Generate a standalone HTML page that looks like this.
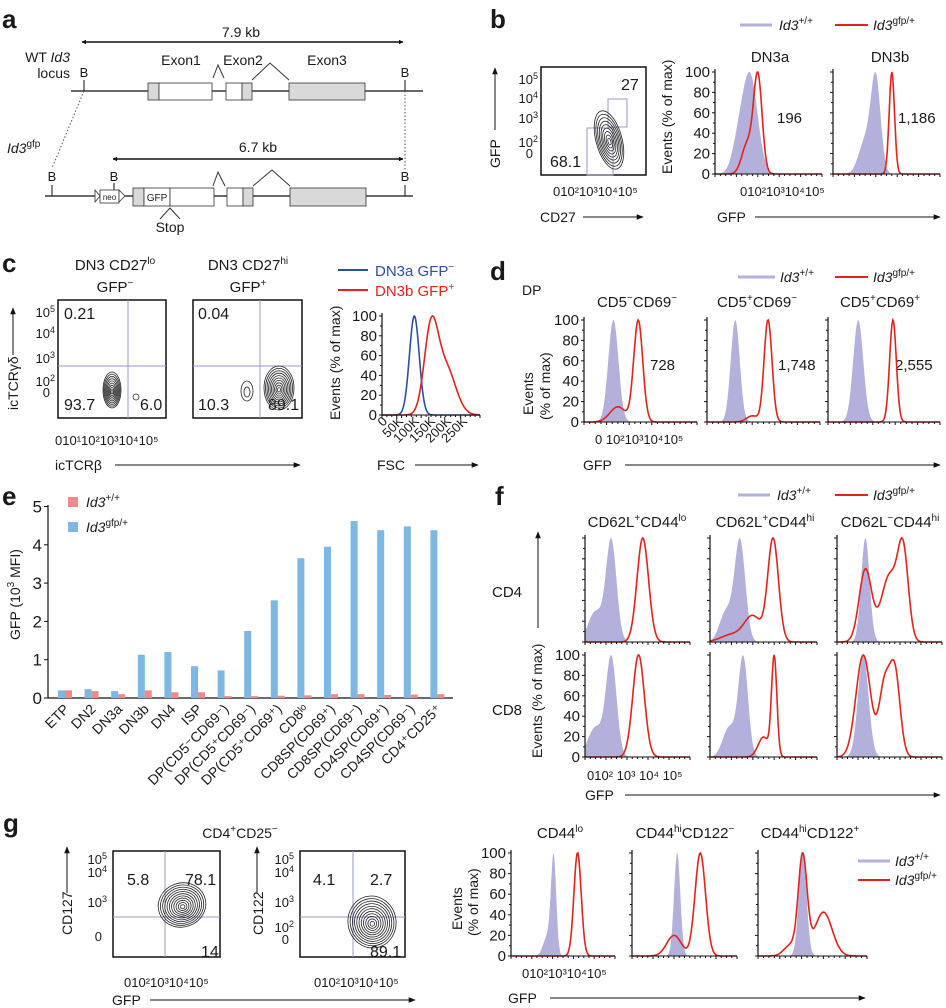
<!DOCTYPE html>
<html><head><meta charset="utf-8"><style>
html,body{margin:0;padding:0;background:#fff;}
svg{display:block;font-family:"Liberation Sans",Arial,sans-serif;}
text{fill:#1a1a1a;}
</style></head><body>
<svg id="fig" width="946" height="1008" viewBox="0 0 946 1008">
<defs>
<marker id="ah" viewBox="0 0 10 10" refX="9" refY="5" markerWidth="7" markerHeight="7" orient="auto-start-reverse"><path d="M0,1 L10,5 L0,9 z" fill="#111"/></marker>
<marker id="ahb" viewBox="0 0 10 10" refX="9" refY="5" markerWidth="4" markerHeight="3" orient="auto-start-reverse"><path d="M0,0 L10,5 L0,10 z" fill="#111"/></marker>
</defs>

<!-- ===== Panel a ===== -->
<g>
<text x="2" y="28" font-size="26" font-weight="bold">a</text>
<line x1="82" y1="42" x2="403" y2="42" stroke="#111" stroke-width="1.5" marker-start="url(#ahb)" marker-end="url(#ahb)"/>
<text x="241" y="37" font-size="14" text-anchor="middle">7.9 kb</text>
<text x="70" y="62" font-size="14" text-anchor="end">WT <tspan font-style="italic">Id3</tspan></text>
<text x="70" y="78" font-size="14" text-anchor="end">locus</text>
<line x1="71" y1="91" x2="423" y2="91" stroke="#111" stroke-width="1.3"/>
<text x="84" y="77" font-size="13" text-anchor="middle">B</text><line x1="84" y1="80" x2="84" y2="91" stroke="#111"/>
<text x="405" y="77" font-size="13" text-anchor="middle">B</text><line x1="405" y1="80" x2="405" y2="91" stroke="#111"/>
<rect x="148" y="83" width="11" height="17" fill="#d9d9d9" stroke="#333" stroke-width=".8"/>
<rect x="159" y="83" width="53" height="17" fill="#fff" stroke="#333" stroke-width=".8"/>
<rect x="226" y="83" width="16" height="17" fill="#fff" stroke="#333" stroke-width=".8"/>
<rect x="242" y="83" width="10" height="17" fill="#d9d9d9" stroke="#333" stroke-width=".8"/>
<rect x="289" y="83" width="76" height="17" fill="#d9d9d9" stroke="#333" stroke-width=".8"/>
<polyline points="213,78 218,65 224,78" fill="none" stroke="#333"/>
<polyline points="252,80 270,63 289,80" fill="none" stroke="#333"/>
<text x="181" y="65" font-size="14" text-anchor="middle">Exon1</text>
<text x="243" y="65" font-size="14" text-anchor="middle">Exon2</text>
<text x="327" y="65" font-size="14" text-anchor="middle">Exon3</text>
<line x1="84" y1="91" x2="52" y2="168" stroke="#555" stroke-dasharray="1.5,2"/>
<line x1="405" y1="91" x2="405" y2="170" stroke="#555" stroke-dasharray="1.5,2"/>
<text x="7" y="153" font-size="14"><tspan font-style="italic">Id3</tspan><tspan dy="-6" font-size="10">gfp</tspan></text>
<line x1="113" y1="159" x2="403" y2="159" stroke="#111" stroke-width="1.5" marker-start="url(#ahb)" marker-end="url(#ahb)"/>
<text x="258" y="152" font-size="14" text-anchor="middle">6.7 kb</text>
<line x1="45" y1="196" x2="413" y2="196" stroke="#111" stroke-width="1.3"/>
<text x="52" y="181" font-size="13" text-anchor="middle">B</text><line x1="52" y1="185" x2="52" y2="196" stroke="#111"/>
<text x="114" y="181" font-size="13" text-anchor="middle">B</text><line x1="114" y1="183" x2="114" y2="190" stroke="#111"/>
<text x="405" y="181" font-size="13" text-anchor="middle">B</text><line x1="405" y1="185" x2="405" y2="196" stroke="#111"/>
<polygon points="95,190 100,196 95,202" fill="#fff" stroke="#333" stroke-width=".8"/>
<rect x="100" y="190" width="19" height="13" fill="#fff" stroke="#333" stroke-width=".8"/>
<text x="109.5" y="200" font-size="8" text-anchor="middle">neo</text>
<polygon points="119,190 125,196 119,202" fill="#fff" stroke="#333" stroke-width=".8"/>
<rect x="133" y="188" width="11" height="18" fill="#d9d9d9" stroke="#333" stroke-width=".8"/>
<rect x="144" y="188" width="26" height="18" fill="#fff" stroke="#333" stroke-width=".8"/>
<text x="157" y="201" font-size="10" text-anchor="middle">GFP</text>
<rect x="170" y="188" width="44" height="18" fill="#fff" stroke="#333" stroke-width=".8"/>
<rect x="227" y="188" width="16" height="18" fill="#fff" stroke="#333" stroke-width=".8"/>
<rect x="243" y="188" width="10" height="18" fill="#d9d9d9" stroke="#333" stroke-width=".8"/>
<rect x="290" y="188" width="76" height="18" fill="#d9d9d9" stroke="#333" stroke-width=".8"/>
<polyline points="213,186 218,172 225,186" fill="none" stroke="#333"/>
<polyline points="253,186 272,170 290,186" fill="none" stroke="#333"/>
<polyline points="160,219 170,208 180,219" fill="none" stroke="#333"/>
<text x="170" y="232" font-size="14" text-anchor="middle">Stop</text>
</g>

<!-- ===== Panel b ===== -->
<g>
<text x="490" y="28" font-size="26" font-weight="bold">b</text>
<line x1="740" y1="25" x2="772" y2="25" stroke="#b3b1db" stroke-width="3"/>
<text x="779" y="30" font-size="14"><tspan font-style="italic">Id3</tspan><tspan dy="-6" font-size="10">+/+</tspan></text>
<line x1="835" y1="25" x2="868" y2="25" stroke="#e3231b" stroke-width="2"/>
<text x="873" y="30" font-size="14"><tspan font-style="italic">Id3</tspan><tspan dy="-6" font-size="10">gfp/+</tspan></text>
<rect x="541" y="67" width="105" height="108" fill="none" stroke="#111" stroke-width="1.5"/>
<rect x="608" y="99" width="19" height="28" fill="none" stroke="#9a9acb"/>
<rect x="587" y="128" width="26" height="47" fill="none" stroke="#9a9acb"/>
<text x="621" y="90" font-size="16">27</text>
<text x="550" y="167" font-size="16">68.1</text>
<g font-size="13" text-anchor="end"><text x="538" y="84">10<tspan dy="-5" font-size="9">5</tspan></text><text x="538" y="103">10<tspan dy="-5" font-size="9">4</tspan></text><text x="538" y="123">10<tspan dy="-5" font-size="9">3</tspan></text><text x="538" y="147">10<tspan dy="-5" font-size="9">2</tspan></text><text x="533" y="158">0</text></g>
<text x="553" y="196" font-size="13">010²10³10⁴10⁵</text>
<text x="540" y="222" font-size="14">CD27</text><line x1="583" y1="217" x2="643" y2="217" stroke="#111" marker-end="url(#ah)"/>
<text transform="translate(500,168) rotate(-90)" font-size="14">GFP</text><line x1="495" y1="130" x2="495" y2="68" stroke="#111" marker-end="url(#ah)"/>
<text x="770" y="62" font-size="15" text-anchor="middle">DN3a</text>
<text x="890" y="62" font-size="15" text-anchor="middle">DN3b</text>
<text x="777" y="123" font-size="15">196</text>
<text x="898" y="123" font-size="15">1,186</text>
<text transform="translate(672,174) rotate(-90)" font-size="14">Events (% of max)</text>
<text x="740" y="196" font-size="13">010²10³10⁴10⁵</text>
<text x="717" y="222" font-size="14">GFP</text><line x1="755" y1="217" x2="940" y2="217" stroke="#111" marker-end="url(#ah)"/>
</g>

<!-- ===== Panel c ===== -->
<g>
<text x="2" y="272" font-size="26" font-weight="bold">c</text>
<text x="115" y="270" font-size="15" text-anchor="middle">DN3 CD27<tspan dy="-6" font-size="10">lo</tspan></text>
<text x="115" y="292" font-size="15" text-anchor="middle">GFP<tspan dy="-6" font-size="10">−</tspan></text>
<text x="248" y="270" font-size="15" text-anchor="middle">DN3 CD27<tspan dy="-6" font-size="10">hi</tspan></text>
<text x="248" y="292" font-size="15" text-anchor="middle">GFP<tspan dy="-6" font-size="10">+</tspan></text>
<rect x="58" y="300" width="108" height="118" fill="none" stroke="#111" stroke-width="1.5"/>
<rect x="193" y="300" width="109" height="118" fill="none" stroke="#111" stroke-width="1.5"/>
<line x1="128" y1="300" x2="128" y2="418" stroke="#9a9acb"/><line x1="58" y1="366" x2="166" y2="366" stroke="#9a9acb"/>
<line x1="260" y1="300" x2="260" y2="418" stroke="#9a9acb"/><line x1="193" y1="366" x2="302" y2="366" stroke="#9a9acb"/>
<g font-size="16"><text x="64" y="319">0.21</text><text x="64" y="410">93.7</text><text x="140" y="410">6.0</text>
<text x="198" y="319">0.04</text><text x="198" y="410">10.3</text><text x="268" y="410">89.1</text></g>
<g font-size="13" text-anchor="end"><text x="55" y="317">10<tspan dy="-5" font-size="9">5</tspan></text><text x="55" y="338">10<tspan dy="-5" font-size="9">4</tspan></text><text x="55" y="363">10<tspan dy="-5" font-size="9">3</tspan></text><text x="55" y="386">10<tspan dy="-5" font-size="9">2</tspan></text><text x="50" y="397">0</text></g>
<text x="55" y="445" font-size="13">010¹10²10³10⁴10⁵</text>
<text x="55" y="470" font-size="14">icTCRβ</text><line x1="115" y1="465" x2="300" y2="465" stroke="#111" marker-end="url(#ah)"/>
<text transform="translate(18,410) rotate(-90)" font-size="14">icTCRγδ</text><line x1="13" y1="355" x2="13" y2="308" stroke="#111" marker-end="url(#ah)"/>
<line x1="338" y1="270" x2="368" y2="270" stroke="#2c4fa3" stroke-width="2"/><text x="375" y="276" font-size="15" fill="#2c4fa3" style="fill:#2c4fa3">DN3a GFP<tspan dy="-6" font-size="10">−</tspan></text>
<line x1="338" y1="290" x2="368" y2="290" stroke="#e3231b" stroke-width="2"/><text x="375" y="296" font-size="15" style="fill:#e3231b">DN3b GFP<tspan dy="-6" font-size="10">+</tspan></text>
<text transform="translate(340,420) rotate(-90)" font-size="14">Events (% of max)</text>
<g font-size="13" text-anchor="end"><text transform="translate(388,422) rotate(-45)">0</text><text transform="translate(404,422) rotate(-45)">50K</text><text transform="translate(420,422) rotate(-45)">100K</text><text transform="translate(436,422) rotate(-45)">150K</text><text transform="translate(452,422) rotate(-45)">200K</text><text transform="translate(468,422) rotate(-45)">250K</text></g>
<text x="377" y="470" font-size="14">FSC</text><line x1="415" y1="465" x2="478" y2="465" stroke="#111" marker-end="url(#ah)"/>
</g>

<!-- ===== Panel d ===== -->
<g>
<text x="490" y="280" font-size="26" font-weight="bold">d</text>
<line x1="738" y1="277" x2="775" y2="277" stroke="#b3b1db" stroke-width="3"/>
<text x="780" y="282" font-size="14"><tspan font-style="italic">Id3</tspan><tspan dy="-6" font-size="10">+/+</tspan></text>
<line x1="835" y1="277" x2="868" y2="277" stroke="#e3231b" stroke-width="2"/>
<text x="873" y="282" font-size="14"><tspan font-style="italic">Id3</tspan><tspan dy="-6" font-size="10">gfp/+</tspan></text>
<text x="522" y="295" font-size="14">DP</text>
<text x="637" y="307" font-size="15" text-anchor="middle">CD5<tspan dy="-6" font-size="10">−</tspan><tspan dy="6">CD69</tspan><tspan dy="-6" font-size="10">−</tspan></text>
<text x="757" y="307" font-size="15" text-anchor="middle">CD5<tspan dy="-6" font-size="10">+</tspan><tspan dy="6">CD69</tspan><tspan dy="-6" font-size="10">−</tspan></text>
<text x="880" y="307" font-size="15" text-anchor="middle">CD5<tspan dy="-6" font-size="10">+</tspan><tspan dy="6">CD69</tspan><tspan dy="-6" font-size="10">+</tspan></text>
<text x="650" y="370" font-size="15">728</text><text x="778" y="370" font-size="15">1,748</text><text x="895" y="370" font-size="15">2,555</text>
<text transform="translate(533,415) rotate(-90)" font-size="14">Events</text>
<text transform="translate(550,420) rotate(-90)" font-size="14">(% of max)</text>
<text x="595" y="444" font-size="13">0 10²10³10⁴10⁵</text>
<text x="583" y="470" font-size="14">GFP</text><line x1="625" y1="465" x2="940" y2="465" stroke="#111" marker-end="url(#ah)"/>
</g>

<!-- ===== Panel e ===== -->
<g id="panel-e">
<text x="2" y="505" font-size="26" font-weight="bold">e</text>
<rect x="68" y="497" width="10" height="10" fill="#f08a8a"/>
<text x="86" y="507" font-size="14"><tspan font-style="italic">Id3</tspan><tspan dy="-6" font-size="10">+/+</tspan></text>
<rect x="68" y="522" width="10" height="10" fill="#7db7e4"/>
<text x="86" y="532" font-size="14"><tspan font-style="italic">Id3</tspan><tspan dy="-6" font-size="10">gfp/+</tspan></text>
<text transform="translate(20,640) rotate(-90)" font-size="14">GFP (10<tspan dy="-6" font-size="10">3</tspan><tspan dy="6"> MFI)</tspan></text>
<line x1="48" y1="505" x2="48" y2="698" stroke="#111" stroke-width="1.2"/>
<line x1="48" y1="698" x2="453" y2="698" stroke="#111" stroke-width="1.2"/>
</g>

<!-- ===== Panel f ===== -->
<g>
<text x="495" y="505" font-size="26" font-weight="bold">f</text>
<line x1="738" y1="495" x2="770" y2="495" stroke="#b3b1db" stroke-width="3"/>
<text x="777" y="500" font-size="14"><tspan font-style="italic">Id3</tspan><tspan dy="-6" font-size="10">+/+</tspan></text>
<line x1="835" y1="495" x2="868" y2="495" stroke="#e3231b" stroke-width="2"/>
<text x="873" y="500" font-size="14"><tspan font-style="italic">Id3</tspan><tspan dy="-6" font-size="10">gfp/+</tspan></text>
<text x="637" y="527" font-size="15" text-anchor="middle">CD62L<tspan dy="-6" font-size="10">+</tspan><tspan dy="6">CD44</tspan><tspan dy="-6" font-size="10">lo</tspan></text>
<text x="765" y="527" font-size="15" text-anchor="middle">CD62L<tspan dy="-6" font-size="10">+</tspan><tspan dy="6">CD44</tspan><tspan dy="-6" font-size="10">hi</tspan></text>
<text x="890" y="527" font-size="15" text-anchor="middle">CD62L<tspan dy="-6" font-size="10">−</tspan><tspan dy="6">CD44</tspan><tspan dy="-6" font-size="10">hi</tspan></text>
<text x="492" y="597" font-size="15">CD4</text>
<text x="492" y="715" font-size="15">CD8</text>
<line x1="538" y1="628" x2="538" y2="532" stroke="#111" marker-end="url(#ah)"/>
<text transform="translate(542,758) rotate(-90)" font-size="14">Events (% of max)</text>
<text x="587" y="780" font-size="13">010² 10³ 10⁴ 10⁵</text>
<text x="585" y="800" font-size="14">GFP</text><line x1="625" y1="795" x2="940" y2="795" stroke="#111" marker-end="url(#ah)"/>
</g>

<!-- ===== Panel g ===== -->
<g>
<text x="3" y="832" font-size="26" font-weight="bold">g</text>
<text x="240" y="838" font-size="14" text-anchor="middle">CD4<tspan dy="-6" font-size="10">+</tspan><tspan dy="6">CD25</tspan><tspan dy="-6" font-size="10">−</tspan></text>
<rect x="113" y="851" width="107" height="106" fill="none" stroke="#111" stroke-width="1.5"/>
<rect x="300" y="851" width="105" height="106" fill="none" stroke="#111" stroke-width="1.5"/>
<line x1="165" y1="851" x2="165" y2="957" stroke="#9a9acb"/><line x1="113" y1="917" x2="220" y2="917" stroke="#9a9acb"/>
<line x1="353" y1="851" x2="353" y2="957" stroke="#9a9acb"/><line x1="300" y1="917" x2="405" y2="917" stroke="#9a9acb"/>
<g font-size="16"><text x="127" y="885">5.8</text><text x="185" y="885">78.1</text><text x="201" y="957">14</text>
<text x="313" y="885">4.1</text><text x="370" y="885">2.7</text><text x="370" y="957">89.1</text></g>
<g font-size="13" text-anchor="end"><text x="107" y="864">10<tspan dy="-5" font-size="9">5</tspan></text><text x="107" y="877">10<tspan dy="-5" font-size="9">4</tspan></text><text x="107" y="907">10<tspan dy="-5" font-size="9">3</tspan></text><text x="102" y="941">0</text>
<text x="294" y="864">10<tspan dy="-5" font-size="9">5</tspan></text><text x="294" y="877">10<tspan dy="-5" font-size="9">4</tspan></text><text x="294" y="907">10<tspan dy="-5" font-size="9">3</tspan></text><text x="294" y="932">10<tspan dy="-5" font-size="9">2</tspan></text><text x="289" y="944">0</text></g>
<text transform="translate(72,935) rotate(-90)" font-size="14">CD127</text><line x1="67" y1="893" x2="67" y2="847" stroke="#111" marker-end="url(#ah)"/>
<text transform="translate(263,935) rotate(-90)" font-size="14">CD122</text><line x1="257" y1="893" x2="257" y2="847" stroke="#111" marker-end="url(#ah)"/>
<text x="124" y="987" font-size="13">010²10³10⁴10⁵</text>
<text x="314" y="987" font-size="13">010²10³10⁴10⁵</text>
<text x="112" y="1005" font-size="14">GFP</text><line x1="150" y1="1000" x2="415" y2="1000" stroke="#111" marker-end="url(#ah)"/>
<text transform="translate(462,930) rotate(-90)" font-size="14">Events</text>
<text transform="translate(478,936) rotate(-90)" font-size="14">(% of max)</text>
<text x="560" y="838" font-size="15" text-anchor="middle">CD44<tspan dy="-6" font-size="10">lo</tspan></text>
<text x="685" y="838" font-size="15" text-anchor="middle">CD44<tspan dy="-6" font-size="10">hi</tspan><tspan dy="6">CD122</tspan><tspan dy="-6" font-size="10">−</tspan></text>
<text x="810" y="838" font-size="15" text-anchor="middle">CD44<tspan dy="-6" font-size="10">hi</tspan><tspan dy="6">CD122</tspan><tspan dy="-6" font-size="10">+</tspan></text>
<line x1="858" y1="861" x2="890" y2="861" stroke="#b3b1db" stroke-width="3"/>
<text x="895" y="866" font-size="14"><tspan font-style="italic">Id3</tspan><tspan dy="-6" font-size="10">+/+</tspan></text>
<line x1="858" y1="880" x2="890" y2="880" stroke="#e3231b" stroke-width="2"/>
<text x="895" y="885" font-size="14"><tspan font-style="italic">Id3</tspan><tspan dy="-6" font-size="10">gfp/+</tspan></text>
<text x="522" y="978" font-size="13">010²10³10⁴10⁵</text>
<text x="508" y="1003" font-size="14">GFP</text><line x1="550" y1="998" x2="865" y2="998" stroke="#111" marker-end="url(#ah)"/>
</g>
</svg>

<script>
// ---- Panel e data ----
const categories = ["ETP","DN2","DN3a","DN3b","DN4","ISP","DP(CD5\u207BCD69\u207B)","DP(CD5\u207ACD69\u207B)","DP(CD5\u207ACD69\u207A)","CD8\u02E1\u1D52","CD8SP(CD69\u207A)","CD8SP(CD69\u207B)","CD4SP(CD69\u207A)","CD4SP(CD69\u207B)","CD4\u207ACD25\u207A"];
const gfpValues = [0.20,0.23,0.18,1.13,1.20,0.83,0.72,1.75,2.55,3.65,3.95,4.62,4.38,4.48,4.38];
const wtValues = [0.20,0.18,0.10,0.20,0.15,0.15,0.05,0.05,0.06,0.07,0.10,0.10,0.08,0.09,0.10];
const yTicks = [0,1,2,3,4,5];

// ---- histogram data: peak components [centre(frac), spread(frac), relative height] ----
const b1Gray=[[0.33,0.07,1],[0.22,0.06,0.3]], b1Red=[[0.40,0.04,1],[0.30,0.05,0.3]];
const b2Gray=[[0.40,0.045,1],[0.30,0.06,0.35]], b2Red=[[0.55,0.025,1]];
const d1Gray=[[0.26,0.045,1]], d1Red=[[0.48,0.04,1],[0.30,0.07,0.15]];
const d2Gray=[[0.25,0.04,1]], d2Red=[[0.54,0.035,1],[0.40,0.05,0.06]];
const d3Gray=[[0.27,0.045,1]], d3Red=[[0.58,0.03,1]];
const f11Gray=[[0.25,0.05,1],[0.10,0.07,0.3]], f11Red=[[0.55,0.055,1]];
const f12Gray=[[0.28,0.05,1],[0.15,0.06,0.3]], f12Red=[[0.59,0.05,1],[0.40,0.08,0.25],[0.20,0.1,0.07]];
const f13Gray=[[0.27,0.04,1]], f13Red=[[0.27,0.06,0.6],[0.50,0.08,0.55],[0.63,0.05,0.7]];
const f21Gray=[[0.25,0.05,1],[0.10,0.07,0.3]], f21Red=[[0.51,0.055,1]];
const f22Gray=[[0.31,0.045,1],[0.18,0.06,0.3]], f22Red=[[0.60,0.025,1],[0.50,0.05,0.2]];
const f23Gray=[[0.25,0.05,1]], f23Red=[[0.25,0.07,0.9],[0.45,0.05,0.6],[0.55,0.05,0.75]];
const g1Gray=[[0.41,0.025,1],[0.35,0.04,0.2]], g1Red=[[0.64,0.035,1]];
const g2Gray=[[0.43,0.03,1]], g2Red=[[0.65,0.05,1],[0.40,0.07,0.2]];
const g3Gray=[[0.41,0.035,1]], g3Red=[[0.41,0.04,0.9],[0.60,0.08,0.4],[0.30,0.06,0.1]];
const cBlue=[[0.33,0.05,1]], cRed=[[0.50,0.07,0.95],[0.65,0.1,0.55]];

const NS="http://www.w3.org/2000/svg";
const fig=document.getElementById("fig");
function mk(tag,attrs,parent){const e=document.createElementNS(NS,tag);for(const k in attrs)e.setAttribute(k,attrs[k]);(parent||fig).appendChild(e);return e;}

// ---- Panel e bars ----
const pe=document.getElementById("panel-e");
const yScale=v=>698-v*38.3;
const xCenter=i=>65+i*26.6;
yTicks.forEach(t=>{
  const tl=mk("text",{x:42,y:yScale(t)+6,"font-size":17,"text-anchor":"end"},pe);
  tl.textContent=t;
  
  
  mk("line",{x1:44,y1:yScale(t),x2:48,y2:yScale(t),stroke:"#111"},pe);
});
categories.forEach((c,i)=>{
  const b=mk("rect",{x:xCenter(i)-7,y:yScale(gfpValues[i]),width:7,height:698-yScale(gfpValues[i]),fill:"#7db7e4"},pe);
  
  
  const r=mk("rect",{x:xCenter(i),y:yScale(wtValues[i]),width:7,height:698-yScale(wtValues[i]),fill:"#f08a8a"},pe);
  
  
  const t=mk("text",{transform:"translate("+(xCenter(i)+5)+",710) rotate(-45)","font-size":14,"text-anchor":"end"},pe);
  t.textContent=c;
  
  
});

// ---- histogram helper ----
function curve(comps,f){let s=0;comps.forEach(c=>{s+=c[2]*Math.exp(-0.5*Math.pow((f-c[0])/c[1],2));});return s;}
function pathFor(comps,x0,x1,yT,yB,closed){
  const N=140;let mx=0;const v=[];
  for(let i=0;i<=N;i++){const y=curve(comps,i/N);v.push(y);if(y>mx)mx=y;}
  let d="";
  for(let i=0;i<=N;i++){const x=x0+(x1-x0)*i/N;const y=yB-(yB-yT)*v[i]/mx;d+=(i?"L":"M")+x.toFixed(1)+","+y.toFixed(1);}
  if(closed)d+="L"+x1+","+yB+"L"+x0+","+yB+"Z";
  return d;
}
function hist(name,x0,x1,yT,yB,gray,red,labels,redColor,grayLine){
  const g=mk("g",{});
  
  
  if(grayLine){
    const p=mk("path",{d:pathFor(gray,x0,x1,yT,yB,false),fill:"none",stroke:grayLine,"stroke-width":1.6},g);
    
    
  } else {
    const p=mk("path",{d:pathFor(gray,x0,x1,yT,yB,true),fill:"#b3b1db"},g);
    
    
  }
  const r=mk("path",{d:pathFor(red,x0,x1,yT,yB,false),fill:"none",stroke:redColor||"#e3231b","stroke-width":1.6},g);
  
  
  mk("line",{x1:x0,y1:yT-3,x2:x0,y2:yB,stroke:"#111","stroke-width":1.2},g);
  mk("line",{x1:x0,y1:yB,x2:x1,y2:yB,stroke:"#111","stroke-width":1},g);
  for(let k=0;k<=10;k++){const y=yB-(yB-yT)*k/10;mk("line",{x1:x0-(k%2?2:3),y1:y,x2:x0,y2:y,stroke:"#111"},g);}
  for(let k=0;k<=20;k++){const x=x0+(x1-x0)*k/20;mk("line",{x1:x,y1:yB,x2:x,y2:yB+(k%4?2:3),stroke:"#111"},g);}
  if(labels){
    for(let k=0;k<=5;k++){const y=yB-(yB-yT)*k/5;const t=mk("text",{x:x0-5,y:y+5,"font-size":15,"text-anchor":"end"},g);t.textContent=k*20;
      
      }
  }
}
hist("b-hist-dn3a",715,822,72,174,b1Gray,b1Red,true);
hist("b-hist-dn3b",833,940,72,174,b2Gray,b2Red,false);
hist("c-hist-fsc",382,480,316,415,cBlue,cRed,true,"#e3231b","#2c4fa3");
hist("d-hist-1",584,697,320,422,d1Gray,d1Red,true);
hist("d-hist-2",707,820,320,422,d2Gray,d2Red,false);
hist("d-hist-3",828,940,320,422,d3Gray,d3Red,false);
hist("f-hist-cd4-1",585,690,538,642,f11Gray,f11Red,false);
hist("f-hist-cd4-2",710,817,538,642,f12Gray,f12Red,false);
hist("f-hist-cd4-3",837,942,538,642,f13Gray,f13Red,false);
hist("f-hist-cd8-1",585,690,655,757,f21Gray,f21Red,true);
hist("f-hist-cd8-2",710,817,655,757,f22Gray,f22Red,false);
hist("f-hist-cd8-3",837,942,655,757,f23Gray,f23Red,false);
hist("g-hist-1",511,615,853,956,g1Gray,g1Red,true);
hist("g-hist-2",632,737,853,956,g2Gray,g2Red,false);
hist("g-hist-3",758,867,853,956,g3Gray,g3Red,false);

// ---- contour plots: [cx, cy, rx, ry, rings, rotation] ----
const contourSpecs=[
  ["b-contour",609,140,13,30,9,-15],
  ["c1-contour",112,390,9,18,9,0],
  ["c1-contour-small",136,397,3,3,1,0],
  ["c2-contour-main",279,388,15,22,10,0],
  ["c2-contour-small",247,391,6,10,2,0],
  ["g1-contour",182,905,24,22,11,-20],
  ["g2-contour",372,922,24,26,11,-10]
];
contourSpecs.forEach(s=>{
  const g=mk("g",{});
  
  
  for(let k=0;k<s[5]+0*1+0;k++){}
  for(let k=1;k<=s[5];k++){
    const f=k/s[5];
    mk("ellipse",{cx:s[1],cy:s[2]+ (1-f)*2,rx:(s[3]*f).toFixed(1),ry:(s[4]*f).toFixed(1),fill:"none",stroke:"#222","stroke-width":0.8,transform:"rotate("+s[6]+","+s[1]+","+s[2]+")"},g);
  }
});
</script>
</body></html>
